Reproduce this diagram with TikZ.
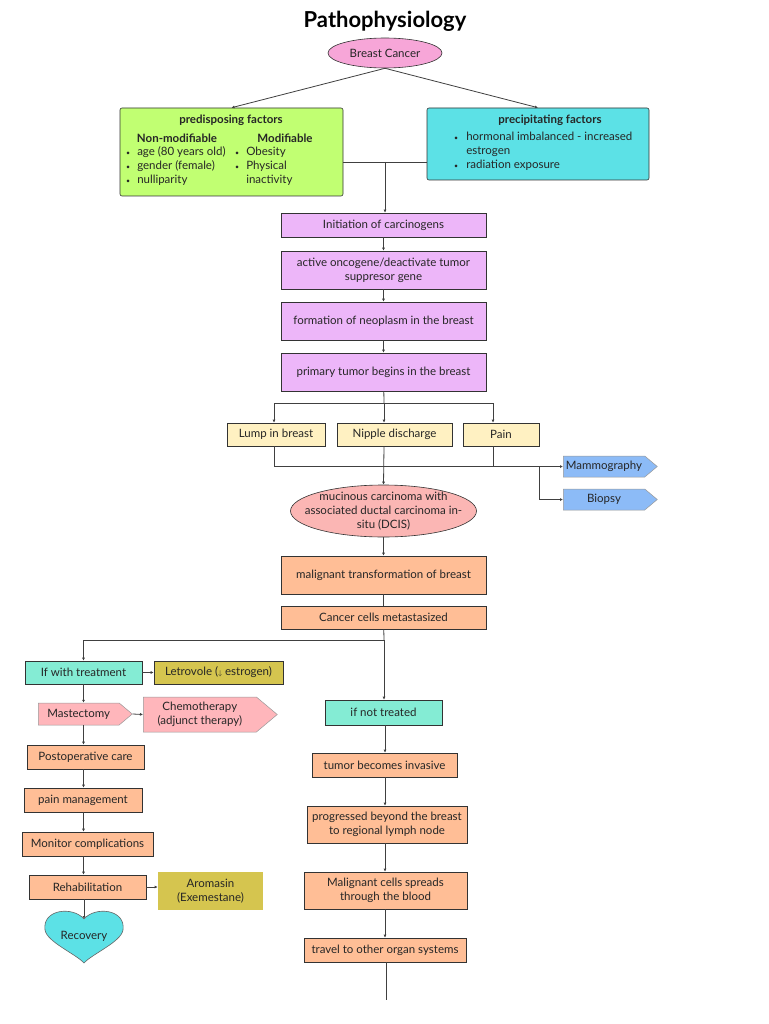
\documentclass[tikz,border=0pt]{standalone}
\usepackage{fontspec}
\setmainfont{Lato}
\usetikzlibrary{arrows.meta,shapes.geometric,shapes.symbols}

\definecolor{pinkc}{HTML}{F7A6D8}
\definecolor{limec}{HTML}{C1FF72}
\definecolor{cyanc}{HTML}{5CE1E6}
\definecolor{violc}{HTML}{EDB6F9}
\definecolor{creamc}{HTML}{FFF1C2}
\definecolor{bluec}{HTML}{8CBBF7}
\definecolor{rosec}{HTML}{FBB6B4}
\definecolor{peachc}{HTML}{FFBE96}
\definecolor{aquac}{HTML}{84ECD4}
\definecolor{olivec}{HTML}{D5C54F}
\definecolor{pinksig}{HTML}{FFB6BB}

\tikzset{
  txt/.style={font=\fontsize{11.5}{14}\selectfont, text=black!85, align=center},
  boldtxt/.style={txt, font=\bfseries\fontsize{11.5}{14}\selectfont},
  box/.style={txt, draw=black!80, line width=0.6pt, inner sep=1pt},
  tagbox/.style={txt, signal, signal to=east, signal pointer angle=80, draw=black!40, line width=0.5pt, inner sep=1pt, anchor=west},
  link/.style={draw=black!75, line width=0.8pt},
  arr/.style={link, -{Latex[length=3pt,width=3pt]}}
}

\begin{document}
\begin{tikzpicture}[x=1pt,y=-1pt]
    % Page
    \fill[white] (0,0) rectangle (768,1024);
    \useasboundingbox (0,0) rectangle (768,1024);

    % Title and root
    \node [font=\bfseries\fontsize{22}{26}\selectfont] (title) at (385,21) {Pathophysiology};
    \node [box, ellipse, fill=pinkc, minimum width=114, minimum height=30, inner sep=0] (bc) at (385,53) {Breast Cancer};

    % Factors
    \node [draw=black!80, line width=0.6pt, fill=limec, rounded corners=2pt, minimum width=223, minimum height=88] (predis) at (231.5,152) {};
    \node [boldtxt] (predtitle) at (231,120) {predisposing factors};
    \node [boldtxt] (nonmod) at (177,138) {Non-modifiable};
    \node [boldtxt] (mod) at (285,138) {Modifiable};
    \node [txt, anchor=north west, inner sep=0, align=left] (nonlist) at (126,146)
      {\begin{tabular}{@{}c@{\hspace{7pt}}l@{}}
        {\scriptsize\textbullet} & age (80 years old)\\
        {\scriptsize\textbullet} & gender (female)\\
        {\scriptsize\textbullet} & nulliparity
      \end{tabular}};
    \node [txt, anchor=north west, inner sep=0, align=left] (modlist) at (235,146)
      {\begin{tabular}{@{}c@{\hspace{7pt}}l@{}}
        {\scriptsize\textbullet} & Obesity\\
        {\scriptsize\textbullet} & Physical\\
                                 & inactivity
      \end{tabular}};

    \node [draw=black!80, line width=0.6pt, fill=cyanc, rounded corners=2pt, minimum width=222, minimum height=72] (precip) at (538,144) {};
    \node [boldtxt] (prectitle) at (550,120) {precipitating factors};
    \node [txt, anchor=north west, inner sep=0, align=left] (preclist) at (454,131)
      {\begin{tabular}{@{}c@{\hspace{8pt}}l@{}}
        {\scriptsize\textbullet} & hormonal imbalanced - increased\\
                                 & estrogen\\
        {\scriptsize\textbullet} & radiation exposure
      \end{tabular}};

    \draw [arr] (bc.south) -- (predis.north);
    \draw [arr] (bc.south) -- (precip.north);

    % Main chain
    \node [box, fill=violc, minimum width=205, minimum height=24] (initn) at (383.5,225) {Initiation of carcinogens};
    \node [box, fill=violc, minimum width=205, minimum height=38] (oncog) at (383.5,270) {active oncogene/deactivate tumor\\suppresor gene};
    \node [box, fill=violc, minimum width=205, minimum height=38] (neopl) at (383.5,321) {formation of neoplasm in the breast};
    \node [box, fill=violc, minimum width=205, minimum height=38] (primt) at (383.5,372) {primary tumor begins in the breast};

    \coordinate (join) at (385,162);
    \draw [link] (join -| predis.east) -- (join -| precip.west);
    \draw [arr] (join) -- (join |- initn.north);
    \draw [arr] (initn) -- (oncog);
    \draw [arr] (oncog) -- (neopl);
    \draw [arr] (neopl) -- (primt);

    % Signs
    \node [box, fill=creamc, minimum width=98, minimum height=23] (lump) at (276,434.5) {Lump in breast};
    \node [box, fill=creamc, minimum width=115, minimum height=23] (nipple) at (394.5,434.5) {Nipple discharge};
    \node [box, fill=creamc, minimum width=76, minimum height=23] (pain) at (501,434.5) {Pain};

    \coordinate (split1) at (384,403);
    \draw [link] (primt) -- (split1);
    \draw [arr] (split1) -| ([xshift=-2pt]lump.north);
    \draw [arr] (split1) -| ([xshift=-8pt]pain.north);
    \draw [arr] (split1) -- (split1 |- nipple.north);

    % Diagnostics
    \node [tagbox, fill=bluec, minimum width=94, minimum height=21] (mammo) at (563,466.5) {Mammography};
    \node [tagbox, fill=bluec, minimum width=94, minimum height=21] (biopsy) at (563,499.5) {Biopsy};

    \coordinate (brk) at (539,466.5);
    \draw [arr] ([xshift=-2pt]lump.south) |- (mammo.west);
    \draw [link] ([xshift=-8pt]pain.south) -- ([xshift=-8pt]pain.south |- mammo.west);
    \draw [arr] (brk) |- (biopsy.west);

    % Diagnosis
    \node [box, ellipse, fill=rosec, minimum width=186, minimum height=52, inner xsep=-19pt, inner ysep=-3pt] (mucin) at (383.5,511)
      {mucinous carcinoma with\\associated ductal carcinoma in-\\situ (DCIS)};
    \draw [arr] (split1 |- nipple.south) -- (mucin.north);

    \node [box, fill=peachc, minimum width=205, minimum height=38] (maltr) at (383.5,575) {malignant transformation of breast};
    \node [box, fill=peachc, minimum width=205, minimum height=23] (metas) at (383.5,617.5) {Cancer cells metastasized};
    \draw [arr] (mucin) -- (maltr);
    \draw [link] (maltr) -- (metas);

    % Treated branch
    \coordinate (split2) at (384,640);
    \coordinate (lcol) at (83.5,0);
    \node [box, fill=aquac, minimum width=117, minimum height=23] (iftreat) at (83.5,672.5) {If with treatment};
    \node [box, fill=olivec, minimum width=129, minimum height=23] (letro) at (218.5,672.5) {Letrovole ({\scriptsize$\downarrow$} estrogen)};
    \node [tagbox, fill=pinksig, minimum width=94, minimum height=22] (mastec) at (38,714) {Mastectomy};
    \node [tagbox, fill=pinksig, minimum width=134, minimum height=35] (chemo) at (143,714.5) {Chemotherapy\\(adjunct therapy)};
    \node [box, fill=peachc, minimum width=117, minimum height=24] (postop) at (85.5,757) {Postoperative care};
    \node [box, fill=peachc, minimum width=118, minimum height=24] (painm) at (83,800) {pain management};
    \node [box, fill=peachc, minimum width=131, minimum height=24] (monit) at (87.5,844) {Monitor complications};
    \node [box, fill=peachc, minimum width=117, minimum height=24] (rehab) at (87.5,887) {Rehabilitation};
    \node [box, fill=olivec, draw=none, minimum width=105, minimum height=38] (aroma) at (210.5,891) {Aromasin\\(Exemestane)};

    % Heart
    \coordinate (hdip) at (84,919);
    \draw [draw=black!60, line width=0.6pt, fill=cyanc] (hdip) .. controls (95,906) and (126,909) .. (123,930)
      .. controls (121,942) and (92,954) .. (84,963)
      .. controls (76,954) and (47,942) .. (45,930)
      .. controls (42,909) and (73,906) .. (hdip);
    \node [txt] (recov) at (84,936) {Recovery};

    \draw [link] (metas) -- (split2);
    \draw [arr] (split2) -| (iftreat.north);
    \draw [arr] (iftreat) -- (letro);
    \draw [arr] (lcol |- iftreat.south) -- (lcol |- mastec.north);
    \draw [arr] (mastec.east) -- (chemo.west);
    \draw [arr] (lcol |- mastec.south) -- (lcol |- postop.north);
    \draw [arr] (lcol |- postop.south) -- (lcol |- painm.north);
    \draw [arr] (lcol |- painm.south) -- (lcol |- monit.north);
    \draw [arr] (lcol |- monit.south) -- (lcol |- rehab.north);
    \draw [arr] (rehab.east) -- (rehab.east -| aroma.west);
    \draw [arr] (hdip |- rehab.south) -- (hdip);

    % Untreated branch
    \coordinate (rcol) at (385,0);
    \node [box, fill=aquac, minimum width=117, minimum height=25] (notreat) at (383.5,712.5) {if not treated};
    \node [box, fill=peachc, minimum width=145, minimum height=24] (invas) at (384.5,765) {tumor becomes invasive};
    \node [box, fill=peachc, minimum width=160, minimum height=37] (progr) at (387,824.5) {progressed beyond the breast\\to regional lymph node};
    \node [box, fill=peachc, minimum width=163, minimum height=37] (malig) at (385.5,890.5) {Malignant cells spreads\\through the blood};
    \node [box, fill=peachc, minimum width=162, minimum height=24] (travel) at (385,950) {travel to other organ systems};
    \coordinate (fin) at (386,1000);

    \draw [arr] (split2) -- (split2 |- notreat.north);
    \draw [arr] (rcol |- notreat.south) -- (rcol |- invas.north);
    \draw [arr] (rcol |- invas.south) -- (rcol |- progr.north);
    \draw [arr] (rcol |- progr.south) -- (rcol |- malig.north);
    \draw [arr] (rcol |- malig.south) -- (rcol |- travel.north);
    \draw [link] (fin |- travel.south) -- (fin);

\end{tikzpicture}
\end{document}
